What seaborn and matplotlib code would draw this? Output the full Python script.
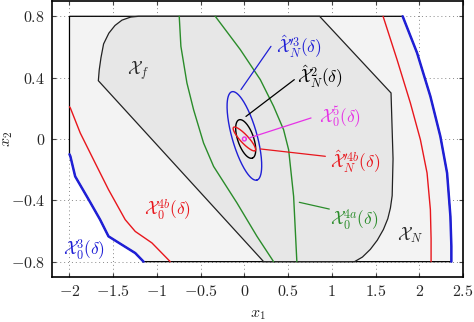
import numpy as np
import pandas as pd
import seaborn as sns
import matplotlib
matplotlib.use("Agg")
import matplotlib.pyplot as plt
from matplotlib.ticker import FuncFormatter

# ---- set boundaries (x1, x2) ----
# feasible region X_N: left edge, top edge and bottom edge of the state box
box_x = [-2.0, 2.5]
box_y = [-0.8, 0.8]

# X_0^3(delta): right branch (top to bottom) and left branch (top to bottom)
x03_right_x = [1.81, 1.975, 2.127, 2.241, 2.318, 2.356, 2.367, 2.367]
x03_right_y = [0.80, 0.561, 0.278, 0.017, -0.222, -0.505, -0.70, -0.80]
x03_left_x = [-2.0, -1.99, -1.935, -1.78, -1.65, -1.554, -1.40, -1.248, -1.153]
x03_left_y = [-0.10, -0.113, -0.244, -0.396, -0.526, -0.635, -0.69, -0.744, -0.80]

# X_0^{4b}(delta)
x04b_right_x = [1.586, 1.746, 1.898, 2.013, 2.089, 2.127, 2.135, 2.135]
x04b_right_y = [0.80, 0.517, 0.235, -0.005, -0.222, -0.461, -0.65, -0.80]
x04b_left_x = [-2.0, -1.99, -1.877, -1.706, -1.554, -1.363, -1.248, -1.057, -0.848]
x04b_left_y = [0.21, 0.202, 0.039, -0.157, -0.33, -0.526, -0.603, -0.678, -0.80]

# X_0^{4a}(delta): two branches
x04a_a_x = [-0.745, -0.726, -0.657, -0.581, -0.467, -0.352, -0.085, 0.144, 0.334]
x04a_a_y = [0.80, 0.604, 0.365, 0.191, -0.026, -0.179, -0.417, -0.635, -0.80]
x04a_b_x = [-0.333, -0.047, 0.182, 0.334, 0.448, 0.506, 0.563, 0.60]
x04a_b_y = [0.80, 0.583, 0.387, 0.213, 0.061, -0.07, -0.374, -0.80]

# terminal set X_f
xf_x = [-1.21, 0.86, 1.677, 1.70, 1.69, 1.67, 1.64, 1.59, 1.52, 1.44, 1.35, 1.26,
        0.22, -1.67, -1.66, -1.64, -1.61, -1.55, -1.48, -1.40, -1.30, -1.21]
xf_y = [0.80, 0.80, 0.30, -0.13, -0.37, -0.45, -0.52, -0.59, -0.66, -0.72, -0.77, -0.80,
        -0.80, 0.38, 0.45, 0.53, 0.62, 0.69, 0.74, 0.775, 0.795, 0.80]

# ellipsoidal sets: centre and two conjugate semi-diameters
ell_names = ["XN3", "XN2", "XN4b", "X05"]
ell_cx = [0.0, 0.015, 0.0, 0.0]
ell_cy = [0.02, 0.0, 0.0, 0.0]
ell_ax = [0.143, 0.076, 0.124, 0.022]
ell_ay = [-0.288, -0.125, -0.076, 0.0]
ell_bx = [0.137, 0.086, 0.034, 0.0]
ell_by = [0.022, 0.017, 0.018, 0.013]
ell_colors = ["#1f1fd6", "black", "#e8161c", "#e632e6"]

BLUE = "#1f1fd6"
RED = "#e8161c"
GREEN = "#2a8c2a"
MAGENTA = "#e632e6"

sns.set_style("ticks")
plt.rcParams.update({
    "font.family": "serif",
    "font.serif": ["cmr10", "DejaVu Serif"],
    "mathtext.fontset": "cm",
    "axes.unicode_minus": False,
})

fig = plt.figure(figsize=(4.74, 3.22), dpi=100)
ax = fig.add_axes([0.1097, 0.1398, 0.8671, 0.8572])

# X_N region (light) bounded by the box and X_0^3
xn_x = ([box_x[0]] + x03_right_x + x03_left_x[::-1] + [box_x[0]])
xn_y = ([box_y[1]] + x03_right_y + x03_left_y[::-1] + [x03_left_y[0]])
ax.fill(xn_x, xn_y, facecolor="#f3f3f3", edgecolor="black", lw=0.9, zorder=1)

# terminal set X_f
ax.fill(xf_x, xf_y, facecolor="#e7e7e7", edgecolor="#222222", lw=0.9, zorder=2)

def curve(xs, ys, color, lw, z=3):
    df = pd.DataFrame({"x1": xs, "x2": ys})
    sns.lineplot(data=df, x="x1", y="x2", sort=False, estimator=None,
                 color=color, lw=lw, ax=ax, zorder=z)

curve(x04a_a_x, x04a_a_y, GREEN, 1.0)
curve(x04a_b_x, x04a_b_y, GREEN, 1.0)
curve(x04b_right_x, x04b_right_y, RED, 1.0)
curve(x04b_left_x, x04b_left_y, RED, 1.0)
curve(x03_right_x, x03_right_y, BLUE, 1.8, 4)
curve(x03_left_x, x03_left_y, BLUE, 1.8, 4)

t = np.linspace(0, 2 * np.pi, 200)
for i, name in enumerate(ell_names):
    ex = ell_cx[i] + ell_ax[i] * np.cos(t) + ell_bx[i] * np.sin(t)
    ey = ell_cy[i] + ell_ay[i] * np.cos(t) + ell_by[i] * np.sin(t)
    curve(ex, ey, ell_colors[i], 1.0, 5)

# labels
fs = 12.5
ax.text(-1.343, 0.44, r"$\mathcal{X}_f$", fontsize=fs, va="center", zorder=6)
ax.text(1.746, -0.625, r"$\mathcal{X}_N$", fontsize=fs, va="center", zorder=6)
ax.text(-1.153, -0.461, r"$\mathcal{X}_0^{4b}(\delta)$", color=RED, fontsize=fs, va="center", zorder=6)
ax.text(-2.07, -0.718, r"$\mathcal{X}_0^{3}(\delta)$", color=BLUE, fontsize=fs, va="center", zorder=6)

def callout(text, color, xy, xyt, xtext, ytext):
    ax.plot([xy[0], xyt[0]], [xy[1], xyt[1]], color=color, lw=0.9, zorder=6)
    ax.text(xtext, ytext, text, color=color, fontsize=fs, va="center", ha="left", zorder=6)

callout(r"$\hat{\mathcal{X}}_N^{\prime 3}(\delta)$", BLUE, (-0.039, 0.322), (0.304, 0.604), 0.366, 0.605)
callout(r"$\hat{\mathcal{X}}_N^{2}(\delta)$", "black", (0.018, 0.147), (0.571, 0.387), 0.606, 0.408)
callout(r"$\mathcal{X}_0^{5}(\delta)$", MAGENTA, (0.056, 0.007), (0.762, 0.137), 0.857, 0.139)
callout(r"$\hat{\mathcal{X}}_N^{\prime 4b}(\delta)$", RED, (0.182, -0.065), (0.926, -0.113), 0.983, -0.146)
callout(r"$\mathcal{X}_0^{4a}(\delta)$", GREEN, (0.628, -0.413), (0.971, -0.457), 0.979, -0.526)

# axes
ax.set_xlim(-2.2, 2.5)
ax.set_ylim(-0.9, 0.9)
ax.set_xticks([-2, -1.5, -1, -0.5, 0, 0.5, 1, 1.5, 2, 2.5])
ax.set_yticks([-0.8, -0.4, 0, 0.4, 0.8])
fmt = FuncFormatter(lambda v, p: f"${v:g}$")
ax.xaxis.set_major_formatter(fmt)
ax.yaxis.set_major_formatter(fmt)
ax.tick_params(direction="in", top=True, right=True, length=3, width=0.8,
               labelsize=11.5, pad=5, color="#444444")
ax.set_axisbelow(True)
ax.grid(True, ls=(0, (1, 3)), color="#888888", lw=0.7)
for s in ax.spines.values():
    s.set_linewidth(1.2)
    s.set_color("black")
ax.set_xlabel(r"$x_1$", fontsize=11.5)
ax.set_ylabel(r"$x_2$", fontsize=11.5)
ax.xaxis.set_label_coords(0.5, -0.115)
ax.yaxis.set_label_coords(-0.09, 0.5)

fig.savefig("out.png", dpi=100)
